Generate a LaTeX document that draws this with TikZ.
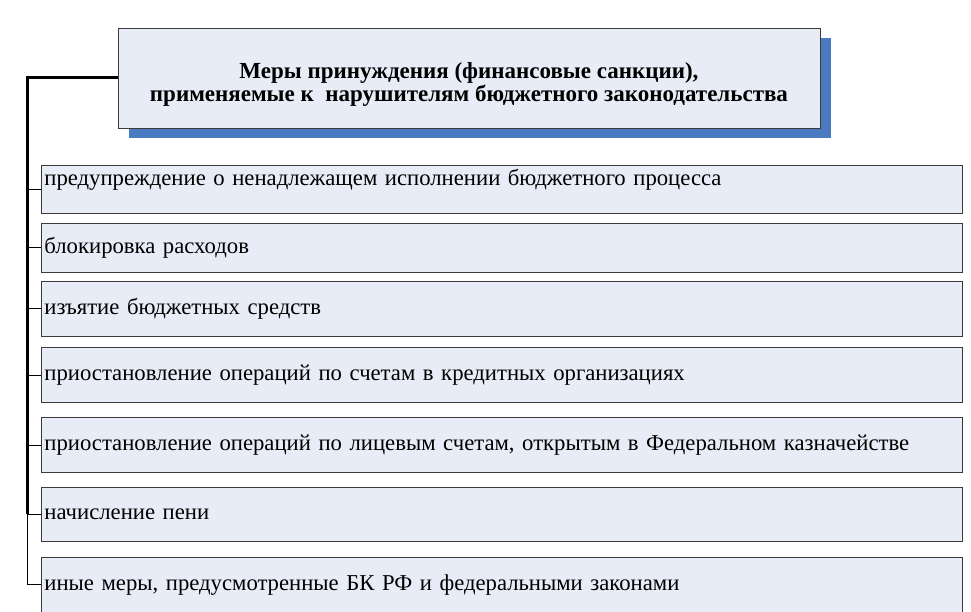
\documentclass[tikz,border=0pt]{standalone}
\usepackage{fontspec}
\setmainfont{Liberation Serif}
\usepackage{tikz}
\usetikzlibrary{shadows, positioning}
\definecolor{boxfill}{HTML}{E7ECF6}
\definecolor{shadowblue}{HTML}{4A7BC1}
\definecolor{edgegray}{HTML}{3A3A3A}

\begin{document}
\begin{tikzpicture}[x=1pt, y=-1pt,
    head/.style={draw=edgegray, fill=boxfill, line width=0.8pt,
      minimum width=702pt, minimum height=100pt, align=center,
      font=\fontsize{23}{23}\selectfont\bfseries,
      drop shadow={shadow xshift=11pt, shadow yshift=-10pt, fill=shadowblue, opacity=1}},
    measure/.style={draw=edgegray, fill=boxfill, line width=0.8pt,
      text width=915pt, inner xsep=3pt, minimum height=55pt, align=left,
      font=\fontsize{22.7}{26}\selectfont},
    trunk/.style={draw=black, line width=3pt},
    branch/.style={draw=black, line width=0.8pt}]
        \useasboundingbox (0,0) rectangle (971,612);
        \node[head] (title) at (469,78)
          {\rule{0pt}{28pt}Меры принуждения (финансовые санкции),\\ применяемые к\ \ нарушителям бюджетного законодательства};
        \node[measure, minimum height=48pt, text depth=25pt, anchor=north west] (m1) at (41,165)
          {предупреждение о ненадлежащем исполнении бюджетного процесса};
        \node[measure, minimum height=49pt, below=9pt of m1.south west, anchor=north west]  (m2) {блокировка расходов};
        \node[measure, below=8pt of m2.south west, anchor=north west]  (m3) {изъятие бюджетных средств};
        \node[measure, below=11pt of m3.south west, anchor=north west] (m4) {приостановление операций по счетам в кредитных организациях};
        \node[measure, below=14pt of m4.south west, anchor=north west] (m5) {приостановление операций по лицевым счетам, открытым в Федеральном казначействе};
        \node[measure, minimum height=54pt, below=14pt of m5.south west, anchor=north west] (m6) {начисление пени};
        \node[measure, below=15pt of m6.south west, anchor=north west] (m7) {иные меры, предусмотренные БК РФ и федеральными законами};
        % connectors
        \coordinate (bus) at (27,78);
        \foreach \m in {m1,m2,m3,m4,m5,m6}
          \draw[branch] (bus |- \m.west) -- (\m.west);
        \draw[branch] (bus |- m6.west) |- (m7.west);
        \draw[trunk] (title.west) -- (bus) -- (bus |- m6.west);
\end{tikzpicture}
\end{document}
